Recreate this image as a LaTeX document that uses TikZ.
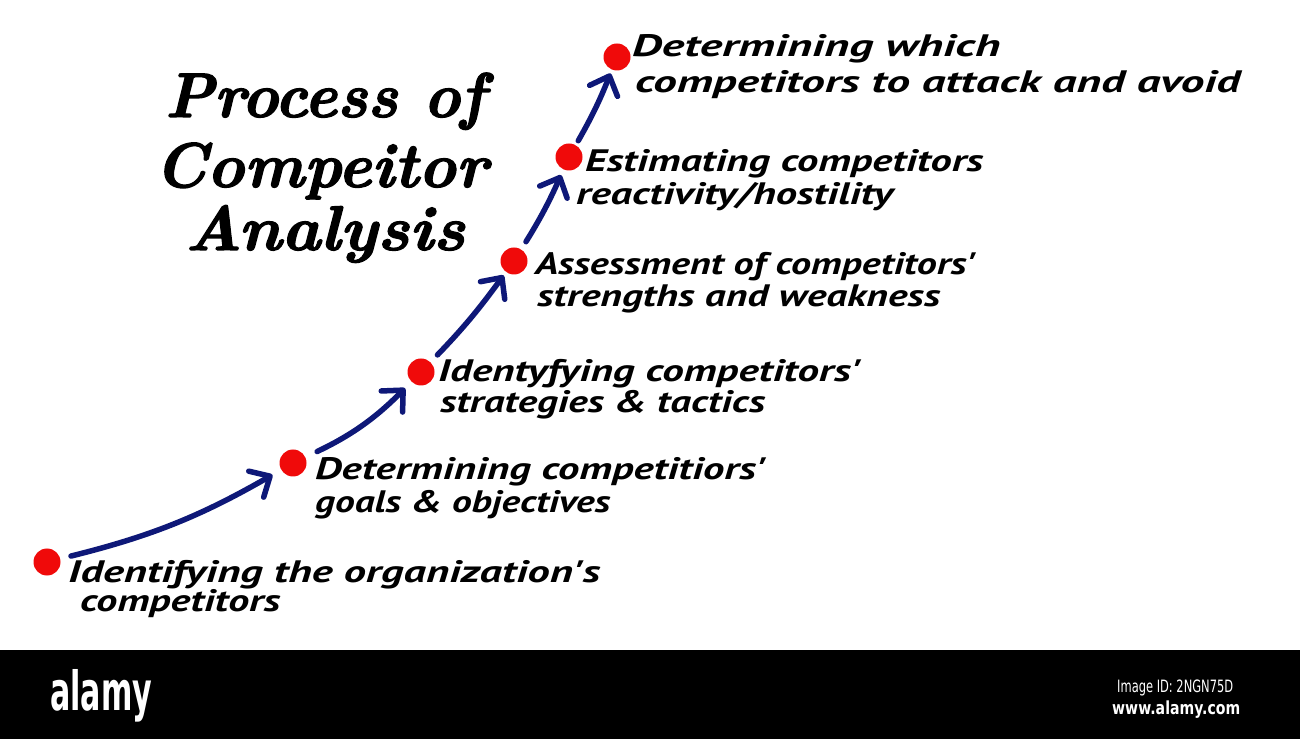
\documentclass[tikz,border=0pt]{standalone}
\usepackage{fontspec}
\usepackage{graphicx}
\usetikzlibrary{arrows.meta}
\newfontfamily\wmfont{DejaVu Sans}
\newfontfamily\hwfont{PT Sans}
\newfontfamily\ttlfont{lmroman10-bolditalic}[Extension=.otf, FakeBold=2]
\definecolor{dotred}{RGB}{240,10,10}
\definecolor{arrowblue}{RGB}{14,24,120}
\newcommand\fitw[2]{\resizebox{#1}{\height}{#2}}
\tikzset{
  dotnode/.style={circle, fill=dotred, minimum size=27pt, inner sep=0pt},
  lbl/.style={anchor=base west, inner sep=0pt, font=\hwfont\bfseries\itshape\fontsize{31}{34}\selectfont},
  ttl/.style={anchor=base, inner sep=0pt, font=\ttlfont\fontsize{63}{67}\selectfont},
  arr/.style={draw=arrowblue, line width=5.5pt, line cap=round,
    -{Straight Barb[length=16pt,width=30pt,round]}},
  wm/.style={inner sep=0pt, text=white}
}
\begin{document}
\begin{tikzpicture}[x=1pt,y=1pt]
\fill[white] (0,0) rectangle (1300,739);
\useasboundingbox (0,0) rectangle (1300,739);
% watermark bar
\fill[black] (0,0) rectangle (1300,89);
\node[wm, anchor=base west] (wm1) at (50,29) {\fitw{102pt}{\wmfont\bfseries\fontsize{54}{54}\selectfont alamy}};
\node[wm, anchor=base west] (wm2) at (1117,47) {\fitw{116pt}{\wmfont\fontsize{17}{17}\selectfont Image ID: 2NGN75D}};
\node[wm, anchor=base west] (wm3) at (1112,25) {\fitw{128pt}{\wmfont\bfseries\fontsize{18}{18}\selectfont www.alamy.com}};
% title
\node[ttl] (ttl1) at (325,622) {\fitw{320pt}{Process of}};
\node[ttl] (ttl2) at (321,552) {\fitw{333pt}{Compeitor}};
\node[ttl] (ttl3) at (325,489) {\fitw{280pt}{Analysis}};
% dots
\node[dotnode] (d1) at (47,177) {};
\node[dotnode] (d2) at (293,276) {};
\node[dotnode] (d3) at (421,367) {};
\node[dotnode] (d4) at (514,478) {};
\node[dotnode] (d5) at (569,582) {};
\node[dotnode] (d6) at (617,682) {};
% labels
\node[lbl] (t1a) at (68,157) {\fitw{532pt}{Identifying the organization's}};
\node[lbl] (t1b) at (80,128) {\fitw{200pt}{competitors}};
\node[lbl] (t2a) at (315,259) {\fitw{450pt}{Determining competitiors'}};
\node[lbl] (t2b) at (315,226) {\fitw{295pt}{goals \& objectives}};
\node[lbl] (t3a) at (438,357) {\fitw{422pt}{Identyfying competitors'}};
\node[lbl] (t3b) at (440,326) {\fitw{325pt}{strategies \& tactics}};
\node[lbl] (t4a) at (535,464) {\fitw{440pt}{Assessment of competitors'}};
\node[lbl] (t4b) at (537,432) {\fitw{403pt}{strengths and weakness}};
\node[lbl] (t5a) at (585,567) {\fitw{398pt}{Estimating competitors}};
\node[lbl] (t5b) at (576,534) {\fitw{317pt}{reactivity/hostility}};
\node[lbl] (t6a) at (632,682) {\fitw{368pt}{Determining which}};
\node[lbl] (t6b) at (635,646) {\fitw{605pt}{competitors to attack and avoid}};
% arrows
\draw[arr, shorten <=11pt, shorten >=10pt] (d1) to[bend right=8] (d2);
\draw[arr, shorten <=13pt, shorten >=9pt] (d2) to[bend right=10] (d3);
\draw[arr, shorten <=10pt, shorten >=4pt] (d3) to[bend right=4] (d4);
\draw[arr, shorten <=9pt, shorten >=6pt] (d4) to[bend right=4] (d5);
\draw[arr, shorten <=5pt, shorten >=4pt] (d5) to[bend right=4] (d6);
\end{tikzpicture}
\end{document}
